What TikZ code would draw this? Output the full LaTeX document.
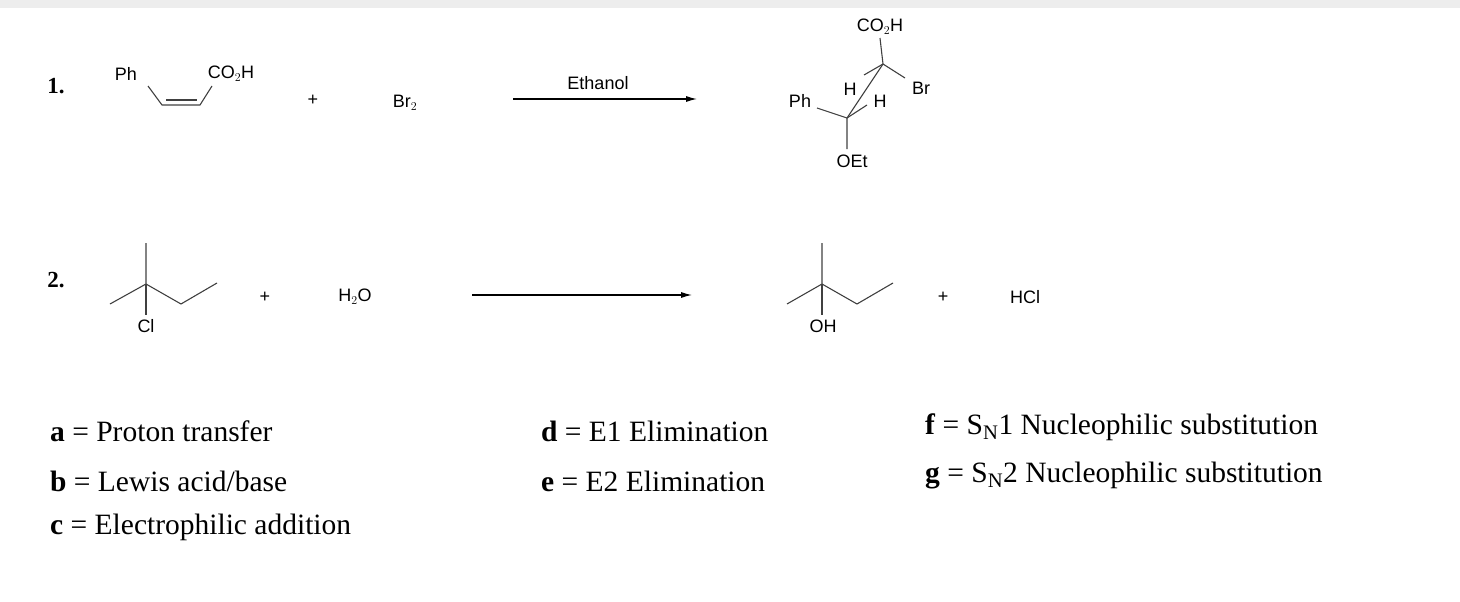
\documentclass[tikz,border=0pt]{standalone}
\usetikzlibrary{arrows.meta}
\usepackage{fontspec}
\setmainfont{Liberation Serif}
\newfontfamily\chem{Liberation Sans}
\begin{document}
\begin{tikzpicture}[x=1pt,y=-1pt,
  lab/.style={font=\chem\fontsize{18}{21}\selectfont,inner sep=0pt},
  bnd/.style={line width=1.1pt,draw=black!75},
  leg/.style={font=\fontsize{29.5}{34}\selectfont,anchor=west,inner sep=0pt},
  num/.style={font=\bfseries\fontsize{23}{27}\selectfont,inner sep=0pt},
  rxn/.style={line width=1.1pt,-{Latex[length=11pt,width=6pt]}}]
\useasboundingbox (0,0) rectangle (1460,602);
\fill[black!7] (0,0) rectangle (1460,8);
\node[num] (n1) at (56,86) {1.};
\node[num] (n2) at (56,280) {2.};
% molecule 1
\node[lab] (ph1) at (126,74) {Ph};
\node[lab] (co1) at (231,74) {CO$_2$H};
\coordinate (a1) at (162,105); \coordinate (a2) at (200,105);
\draw[bnd] (148,86) -- (a1) -- (a2) -- (212,86);
\draw[bnd] (166,100) -- (197,100);
\node[lab] (p1) at (313,100) {+};
\node[lab] (br2) at (405,103) {Br$_2$};
\coordinate (r1s) at (513,99); \coordinate (r1e) at (697,99);
\draw[rxn] (r1s) -- (r1e);
\node[lab] (eth) at (598,83) {Ethanol};
% product 1
\node[lab] (co2) at (880,27) {CO$_2$H};
\coordinate (c1) at (883,64); \coordinate (c2) at (847,118);
\draw[bnd] (880,38) -- (c1) -- (905,78);
\node[lab] (brp) at (921,88) {Br};
\draw[bnd] (c1) -- (c2);
\draw[bnd] (c1) -- (864,75);
\node[lab] (h1) at (850,89) {H};
\draw[bnd] (c2) -- (867,105);
\node[lab] (h2) at (880,101) {H};
\node[lab] (ph2) at (800,101) {Ph};
\draw[bnd] (817,108) -- (c2) -- (847,149);
\node[lab] (oet) at (852,161) {OEt};
% molecule 2
\coordinate (d1) at (146,284);
\draw[bnd] (146,243) -- (d1) -- (110,304);
\draw[bnd] (d1) -- (181,304) -- (217,283);
\draw[bnd] (d1) -- (146,315);
\node[lab] (cl) at (146,326) {Cl};
\node[lab] (p2) at (265,297) {+};
\node[lab] (h2o) at (355,297) {H$_2$O};
\coordinate (r2s) at (472,295); \coordinate (r2e) at (692,295);
\draw[rxn] (r2s) -- (r2e);
\coordinate (e1) at (822,284);
\draw[bnd] (822,243) -- (e1) -- (787,304);
\draw[bnd] (e1) -- (857,304) -- (893,283);
\draw[bnd] (e1) -- (822,315);
\node[lab] (oh) at (823,326) {OH};
\node[lab] (p3) at (943,297) {+};
\node[lab] (hcl) at (1025,297) {HCl};
% legend
\node[leg] (la) at (50,431) {\textbf{a} = Proton transfer};
\node[leg] (lb) at (50,481) {\textbf{b} = Lewis acid/base};
\node[leg] (lc) at (50,527) {\textbf{c} = Electrophilic addition};
\node[leg] (ld) at (541,431) {\textbf{d} = E1 Elimination};
\node[leg] (le) at (541,481) {\textbf{e} = E2 Elimination};
\node[leg] (lf) at (925,427) {\textbf{f} = S$_\mathrm{N}$1 Nucleophilic substitution};
\node[leg] (lg) at (925,476) {\textbf{g} = S$_\mathrm{N}$2 Nucleophilic substitution};
\end{tikzpicture}
\end{document}
